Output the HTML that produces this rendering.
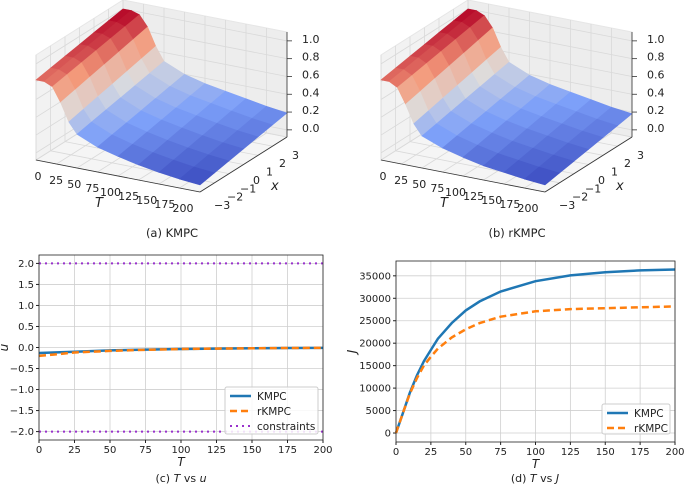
<!DOCTYPE html>
<html><head><meta charset="utf-8"><style>
body{margin:0;background:#fff}
svg text{font-family:"DejaVu Sans","Liberation Sans",sans-serif;fill:#222}
</style></head><body>
<svg id="s" width="685" height="485" viewBox="0 0 685 485" xmlns="http://www.w3.org/2000/svg">
<g id="pa"></g>
<g id="pb"></g>
<g id="pc"></g>
<g id="pd"></g>
<text x="172" y="237" text-anchor="middle" font-size="11.5">(a) KMPC</text>
<text x="517" y="237" text-anchor="middle" font-size="11.5">(b) rKMPC</text>
<text x="181" y="482" text-anchor="middle" font-size="11">(c) <tspan font-style="italic">T</tspan> vs <tspan font-style="italic">u</tspan></text>
<text x="535" y="482" text-anchor="middle" font-size="11">(d) <tspan font-style="italic">T</tspan> vs <tspan font-style="italic">J</tspan></text>
</svg>
<script>
// ---- surface data ----
const surfT = [0,10,20,30,40,50,75,100,125,150,175,200];
const kmpcLow = [0.82,0.82,0.78,0.62,0.42,0.30,0.20,0.14,0.09,0.05,0.02,0.0];
const kmpcHigh = [1.0,1.0,0.97,0.85,0.65,0.50,0.40,0.34,0.30,0.26,0.22,0.19];
const rkmpcLow = [0.82,0.82,0.77,0.60,0.40,0.28,0.19,0.13,0.08,0.05,0.02,0.0];
const rkmpcHigh = [1.0,1.0,0.96,0.84,0.64,0.49,0.39,0.33,0.29,0.25,0.21,0.18];
const surfX = [-3,-2,-1,0,1,2,3];
const tTicks = [0,25,50,75,100,125,150,175,200];
const xTicks = [-3,-2,-1,0,1,2,3];
const zTicks = [0,0.2,0.4,0.6,0.8,1.0];
// ---- u chart data ----
const uT = [0,10,25,50,75,100,125,150,175,200];
const uKMPC = [-0.13,-0.12,-0.10,-0.07,-0.05,-0.035,-0.025,-0.018,-0.012,-0.01];
const uRKMPC = [-0.20,-0.17,-0.12,-0.08,-0.055,-0.035,-0.025,-0.018,-0.012,-0.01];
const uLimits = [2,-2];
const uTicks = [2,1.5,1,0.5,0,-0.5,-1,-1.5,-2];
// ---- J chart data ----
const jT = [0,5,10,15,20,25,30,40,50,60,75,100,125,150,175,200];
const jKMPC = [0,4500,9000,12800,16000,18500,21000,24500,27300,29300,31500,33800,35100,35800,36200,36400];
const jRKMPC = [0,4500,8800,12200,15000,17000,18800,21300,23100,24500,25900,27100,27600,27800,28000,28200];
const jTicks = [0,5000,10000,15000,20000,25000,30000,35000];
const tAxisTicks = [0,25,50,75,100,125,150,175,200];

const NS="http://www.w3.org/2000/svg";
function mk(p,tag,at){const e=document.createElementNS(NS,tag);for(const k in at)e.setAttribute(k,at[k]);p.appendChild(e);return e;}
function fmt(v,d){return (v<0?"\u2212":"")+Math.abs(v).toFixed(d);}

const stops=[[59,76,192],[124,159,249],[221,221,221],[244,154,123],[180,4,38]];
function cw(t){t=Math.max(0,Math.min(1,t))*4;const i=Math.min(3,Math.floor(t)),f=t-i;const a=stops[i],b=stops[i+1];return `rgb(${a.map((v,k)=>Math.round(v+(b[k]-v)*f)).join(',')})`;}

function surf(g,ox,lo,hi){
  const zmin=-0.08,zmax=1.1;
  const P=(T,x,z)=>[ox+200+(T-200)*0.82+(x+3)*14.5, 192+(T-200)*0.16-(x+3)*9.17-(z-zmin)*89];
  const pt=a=>a.map(p=>p[0].toFixed(1)+","+p[1].toFixed(1)).join(" ");
  let e;
  e=mk(g,"polygon",{points:pt([P(0,-3,zmin),P(0,3,zmin),P(0,3,zmax),P(0,-3,zmax)]),fill:"#f2f2f2",stroke:"#e6e6e6"});
  
  e=mk(g,"polygon",{points:pt([P(0,3,zmin),P(200,3,zmin),P(200,3,zmax),P(0,3,zmax)]),fill:"#ededed",stroke:"#e6e6e6"});
  
  e=mk(g,"polygon",{points:pt([P(0,-3,zmin),P(200,-3,zmin),P(200,3,zmin),P(0,3,zmin)]),fill:"#f5f5f5",stroke:"#e6e6e6"});
  
  const gl=(a,b)=>{const l=mk(g,"line",{x1:a[0],y1:a[1],x2:b[0],y2:b[1],stroke:"#d9d9d9","stroke-width":0.8});};
  tTicks.forEach(t=>{gl(P(t,-3,zmin),P(t,3,zmin));gl(P(t,3,zmin),P(t,3,zmax));});
  xTicks.forEach(x=>{gl(P(0,x,zmin),P(200,x,zmin));gl(P(0,x,zmin),P(0,x,zmax));});
  zTicks.forEach(z=>{gl(P(0,-3,z),P(0,3,z));gl(P(0,3,z),P(200,3,z));});
  const Z=(i,j)=>{const f=(surfX[j]+3)/6;return lo[i]+(hi[i]-lo[i])*f;};
  const quads=[];
  for(let i=0;i<surfT.length-1;i++)for(let j=0;j<surfX.length-1;j++){
    quads.push({i,j,d:(surfT[i]+surfT[i+1])/400+(6-(surfX[j]+surfX[j+1]+6)/2)/6});
  }
  quads.sort((a,b)=>a.d-b.d);
  quads.forEach(q=>{const {i,j}=q;
    const c=[[i,j],[i+1,j],[i+1,j+1],[i,j+1]];
    const zs=c.map(([a,b])=>Z(a,b));const zm=zs.reduce((s,v)=>s+v,0)/4;
    const col=cw(zm/1.0);
    const p=mk(g,"polygon",{points:pt(c.map(([a,b],k)=>P(surfT[a],surfX[b],zs[k]))),fill:col,stroke:col,"stroke-width":0.6});
    
  });
  const ax=(a,b)=>{const l=mk(g,"line",{x1:a[0],y1:a[1],x2:b[0],y2:b[1],stroke:"#333","stroke-width":0.8});};
  ax(P(0,-3,zmin),P(200,-3,zmin));ax(P(200,-3,zmin),P(200,3,zmin));ax(P(200,3,zmin),P(200,3,zmax));
  tTicks.forEach(t=>{const p=P(t,-3,zmin);const tx=mk(g,"text",{x:p[0]+2-19*t/200,y:p[1]+20,"font-size":11,"text-anchor":"middle"});tx.textContent=t;});
  xTicks.forEach(x=>{const p=P(200,x,zmin);const tx=mk(g,"text",{x:p[0]+14-(x+3)*1.5,y:p[1]+17+(x+3)*0.8,"font-size":11});tx.textContent=fmt(x,0);});
  zTicks.forEach(z=>{const p=P(200,3,z);const l=mk(g,"line",{x1:p[0],y1:p[1],x2:p[0]+5,y2:p[1],stroke:"#333","stroke-width":0.8});const tx=mk(g,"text",{x:p[0]+15,y:p[1]+2,"font-size":11});tx.textContent=z.toFixed(1);});
  let t1=mk(g,"text",{x:ox+95,y:207,"font-size":13,"font-style":"italic"});t1.textContent="T";
  let t2=mk(g,"text",{x:ox+271,y:190,"font-size":13,"font-style":"italic"});t2.textContent="x";
}
surf(document.getElementById("pa"),0,kmpcLow,kmpcHigh);
surf(document.getElementById("pb"),345,rkmpcLow,rkmpcHigh);

function chart(g,box,xr,yr,yTicks,ydec,series,legend,ylab,lblx){
  const X=v=>box.x0+(v-xr[0])/(xr[1]-xr[0])*(box.x1-box.x0);
  const Y=v=>box.y1-(v-yr[0])/(yr[1]-yr[0])*(box.y1-box.y0);
  let e;
  tAxisTicks.forEach(t=>{e=mk(g,"line",{x1:X(t),x2:X(t),y1:box.y0,y2:box.y1,stroke:"#cfcfcf","stroke-width":0.8});
    e=mk(g,"line",{x1:X(t),x2:X(t),y1:box.y1,y2:box.y1+3,stroke:"#222"});
    e=mk(g,"text",{x:X(t),y:box.y1+13,"font-size":10,"text-anchor":"middle"});e.textContent=t;});
  yTicks.forEach(v=>{e=mk(g,"line",{x1:box.x0,x2:box.x1,y1:Y(v),y2:Y(v),stroke:"#cfcfcf","stroke-width":0.8});
    e=mk(g,"line",{x1:box.x0-3,x2:box.x0,y1:Y(v),y2:Y(v),stroke:"#222"});
    e=mk(g,"text",{x:box.x0-5,y:Y(v)+3.5,"font-size":10,"text-anchor":"end"});e.textContent=fmt(v,ydec);});
  series.forEach(s=>{const d=s.xs.map((t,i)=>(i?"L":"M")+X(t).toFixed(1)+","+Y(s.ys[i]).toFixed(1)).join(" ");
    e=mk(g,"path",{d,fill:"none",stroke:s.c,"stroke-width":s.w,"stroke-dasharray":s.da||"none"});});
  e=mk(g,"rect",{x:box.x0,y:box.y0,width:box.x1-box.x0,height:box.y1-box.y0,fill:"none",stroke:"#222","stroke-width":0.8});
  const L=legend;
  e=mk(g,"rect",{x:L.x,y:L.y,width:L.w,height:L.h,rx:2,fill:"#fff","fill-opacity":0.85,stroke:"#ccc"});
  L.items.forEach((it,i)=>{const yy=L.y+9+i*15;
    e=mk(g,"line",{x1:L.x+5,x2:L.x+26,y1:yy,y2:yy,stroke:it.c,"stroke-width":it.w,"stroke-dasharray":it.da||"none"});
    e=mk(g,"text",{x:L.x+32,y:yy+4,"font-size":10.5});e.textContent=it.t;});
  e=mk(g,"text",{x:(box.x0+box.x1)/2,y:box.y1+26,"font-size":12,"font-style":"italic","text-anchor":"middle"});e.textContent="T";
  e=mk(g,"text",{x:lblx,y:(box.y0+box.y1)/2,"font-size":12,"font-style":"italic","text-anchor":"middle",transform:`rotate(-90 ${lblx} ${(box.y0+box.y1)/2})`});e.textContent=ylab;
}
const blue="#1f77b4",orange="#ff7f0e",purple="#9932cc";
chart(document.getElementById("pc"),{x0:39,x1:323,y0:255,y1:440},[0,200],[-2.2,2.2],uTicks,1,[
  {xs:[0,200],ys:[uLimits[0],uLimits[0]],c:purple,w:2,da:"2,4",name:"upper-constraint-line"},
  {xs:[0,200],ys:[uLimits[1],uLimits[1]],c:purple,w:2,da:"2,4",name:"lower-constraint-line"},
  {xs:uT,ys:uKMPC,c:blue,w:2.5,name:"kmpc-u-line"},
  {xs:uT,ys:uRKMPC,c:orange,w:2.5,da:"7,4",name:"rkmpc-u-line"}
],{x:225,y:387,w:93,h:47,items:[{t:"KMPC",c:blue,w:2.5},{t:"rKMPC",c:orange,w:2.5,da:"7,4"},{t:"constraints",c:purple,w:2,da:"2,4"}]},"u",8);
chart(document.getElementById("pd"),{x0:396,x1:675,y0:261,y1:442},[0,200],[-2000,38300],jTicks,0,[
  {xs:jT,ys:jKMPC,c:blue,w:2.5,name:"kmpc-j-line"},
  {xs:jT,ys:jRKMPC,c:orange,w:2.5,da:"7,4",name:"rkmpc-j-line"}
],{x:602,y:404,w:68,h:30,items:[{t:"KMPC",c:blue,w:2.5},{t:"rKMPC",c:orange,w:2.5,da:"7,4"}]},"J",356);
</script>
</body></html>
